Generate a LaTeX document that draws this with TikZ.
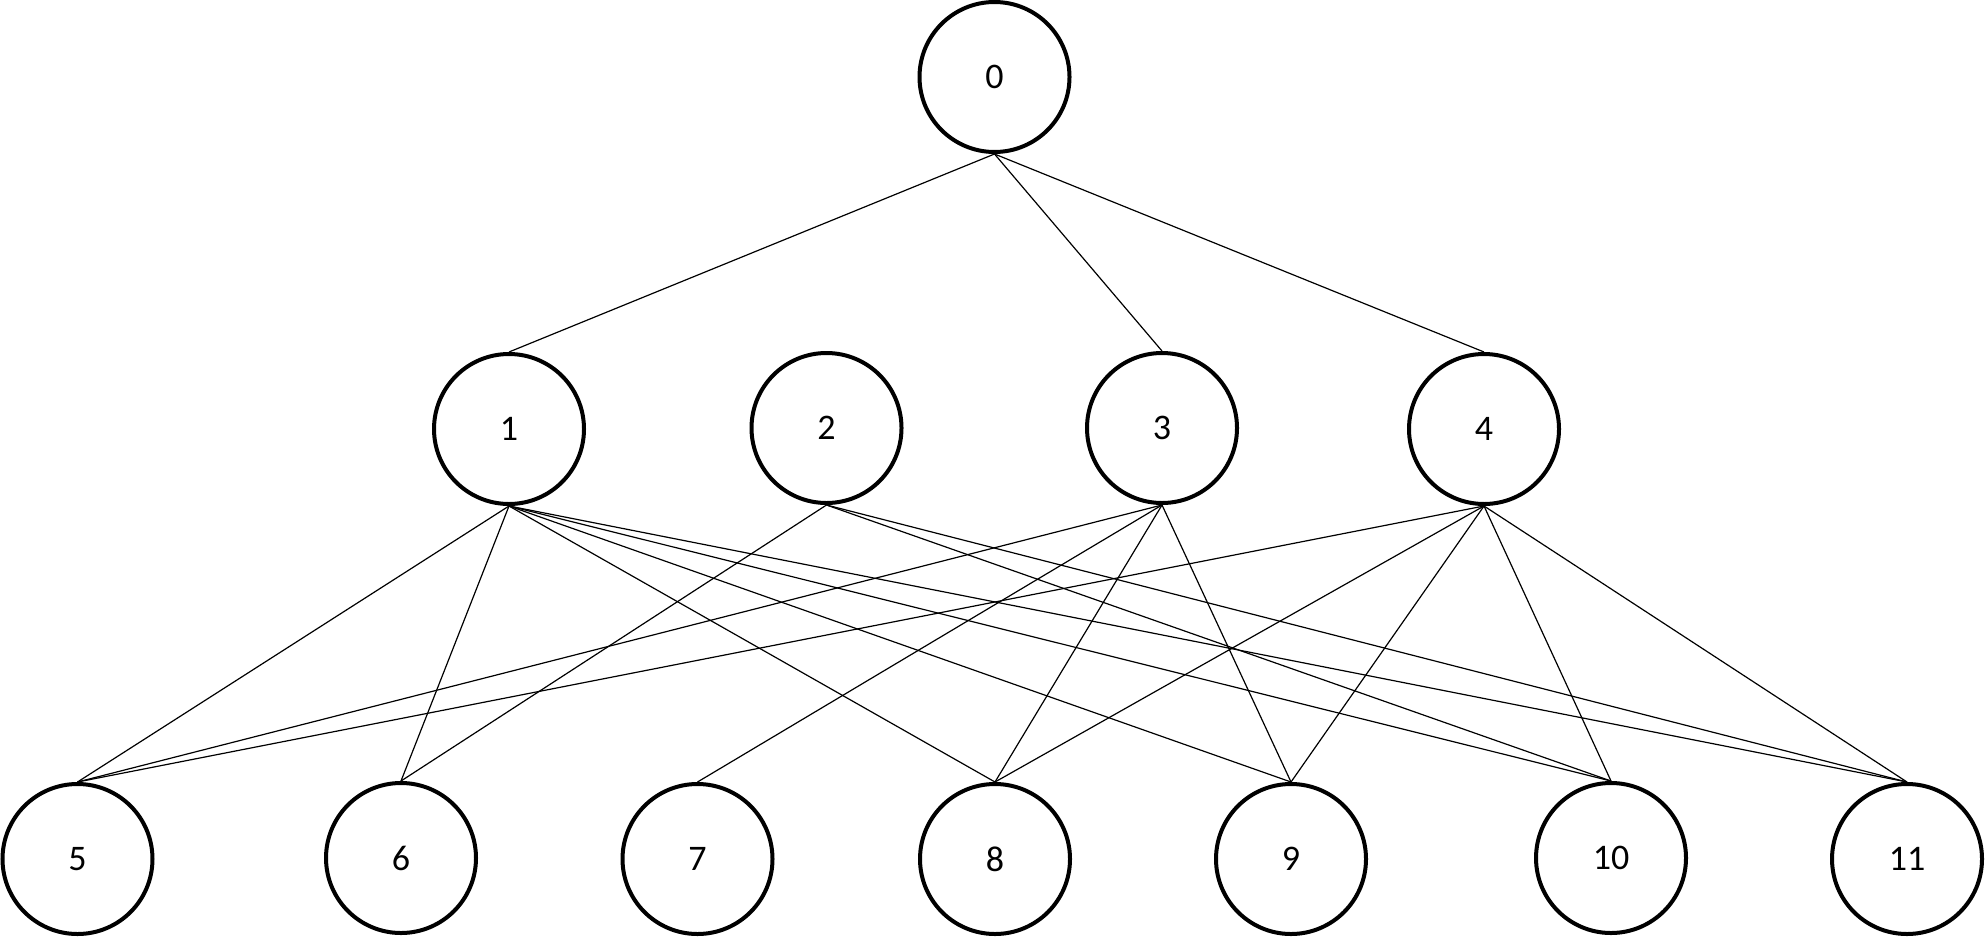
\documentclass[tikz,border=0pt]{standalone}
\usepackage{fontspec}
\setmainfont{Carlito}
\tikzset{
  vertex/.style = {circle, draw, line width = 2pt, minimum size = 75pt,
                   inner sep = 0pt, font = \fontsize{18}{22}\selectfont},
  link/.style = {line width = .6pt}
}
\begin{document}
\begin{tikzpicture}[x = .5pt, y = .5pt]
      \useasboundingbox (0,0) rectangle (1985,-937);
      % top
      \node [vertex] (n0) at (994.5,-77) {0};
      % middle row
      \node [vertex] (n1) at (509,-429) {1};
      \node [vertex] (n2) at (826.5,-428) {2};
      \node [vertex] (n3) at (1162,-428) {3};
      \node [vertex] (n4) at (1484,-429) {4};
      % bottom row
      \node [vertex] (n5) at (77.5,-859) {5};
      \node [vertex] (n6) at (401,-858) {6};
      \node [vertex] (n7) at (697.5,-859) {7};
      \node [vertex] (n8) at (995,-859) {8};
      \node [vertex] (n9) at (1291,-859) {9};
      \node [vertex] (n10) at (1611,-858) {10};
      \node [vertex] (n11) at (1907,-859) {11};
      \foreach \a/\b in {0/1, 0/3, 0/4,
                         1/5, 1/6, 1/8, 1/9, 1/10, 1/11,
                         2/6, 2/10, 2/11,
                         3/5, 3/7, 3/8, 3/9,
                         4/5, 4/8, 4/9, 4/10, 4/11}
        \draw [link] (n\a.south) -- (n\b.north);
    \end{tikzpicture}
\end{document}
